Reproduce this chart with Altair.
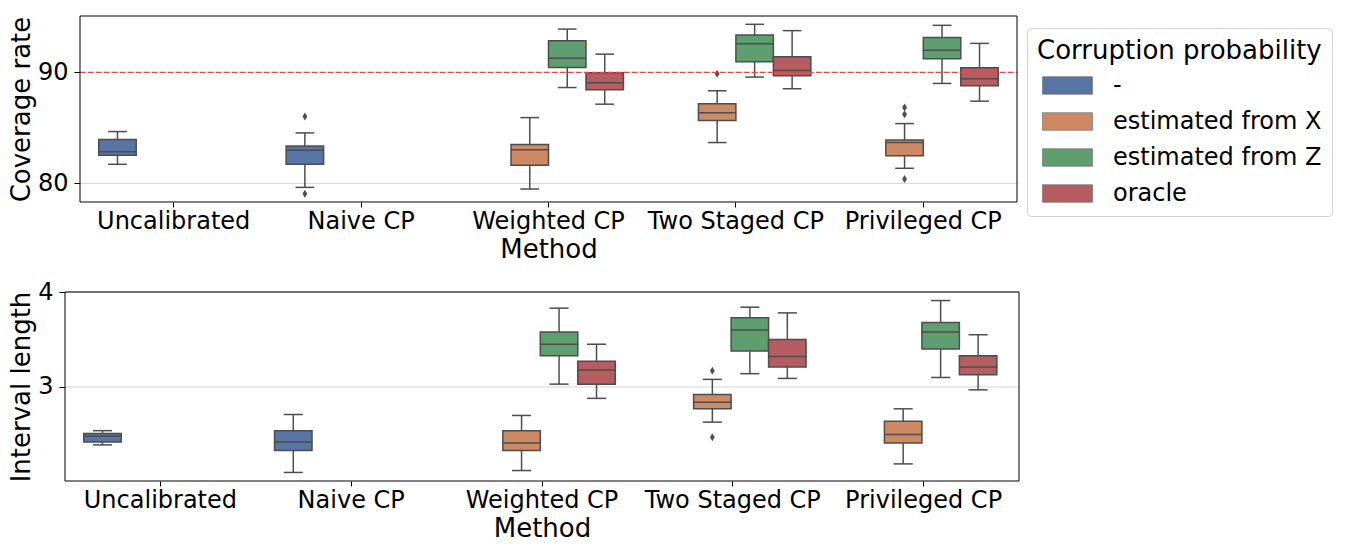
import altair as alt
import pandas as pd

# ---------------- data ----------------
methods = ["Uncalibrated", "Naive CP", "Weighted CP", "Two Staged CP", "Privileged CP"]
groups = ["-", "estimated from X", "estimated from Z", "oracle"]
group_colors = ["#5875a4", "#cc8963", "#5f9e6e", "#b55d60"]

X_, Z_, O_ = "estimated from X", "estimated from Z", "oracle"
box_method = ["Uncalibrated", "Naive CP",
              "Weighted CP", "Weighted CP", "Weighted CP",
              "Two Staged CP", "Two Staged CP", "Two Staged CP",
              "Privileged CP", "Privileged CP", "Privileged CP"]
box_group = ["-", "-", X_, Z_, O_, X_, Z_, O_, X_, Z_, O_]

# Coverage rate
cov_low = [81.72, 79.64, 79.49, 88.64, 87.14, 83.68, 89.58, 88.53, 81.36, 89.01, 87.41]
cov_q1 = [82.53, 81.72, 81.63, 90.45, 88.44, 85.66, 90.97, 89.70, 82.50, 91.24, 88.80]
cov_median = [82.86, 82.98, 83.02, 91.29, 89.07, 86.36, 92.59, 90.18, 83.68, 92.01, 89.43]
cov_q3 = [83.95, 83.38, 83.50, 92.86, 89.97, 87.17, 93.37, 91.42, 83.92, 93.16, 90.42]
cov_high = [84.67, 84.55, 85.93, 93.91, 91.65, 88.35, 94.34, 93.77, 85.39, 94.25, 92.62]
cov_out_method = ["Naive CP", "Naive CP", "Two Staged CP", "Privileged CP", "Privileged CP", "Privileged CP"]
cov_out_group = ["-", "-", X_, X_, X_, X_]
cov_out_value = [86.03, 79.07, 89.88, 86.84, 86.23, 80.40]
cov_domain = [78.32, 95.09]
cov_ticks = [80, 90]
cov_target = [90]

# Interval length
len_low = [2.39, 2.10, 2.12, 3.03, 2.88, 2.63, 3.14, 3.09, 2.19, 3.10, 2.97]
len_q1 = [2.42, 2.33, 2.33, 3.33, 3.03, 2.77, 3.38, 3.21, 2.41, 3.40, 3.13]
len_median = [2.48, 2.42, 2.41, 3.45, 3.18, 2.84, 3.60, 3.32, 2.50, 3.58, 3.21]
len_q3 = [2.51, 2.54, 2.54, 3.58, 3.27, 2.92, 3.73, 3.50, 2.64, 3.68, 3.33]
len_high = [2.54, 2.71, 2.70, 3.83, 3.45, 3.08, 3.84, 3.78, 2.77, 3.91, 3.55]
len_out_method = ["Two Staged CP", "Two Staged CP"]
len_out_group = [X_, X_]
len_out_value = [3.17, 2.47]
len_domain = [2.01, 4.0]
len_ticks = [3, 4]

# ---------------- styling ----------------
FONT = "DejaVu Sans"
GRAY = "#4d4d4d"
DIAMOND = "M0,-1L0.6,0L0,1L-0.6,0Z"
PATCH = "M-2.083,-0.733L2.083,-0.733L2.083,0.733L-2.083,0.733Z"


def panel(low, q1, med, q3, high, om, og, ov, ydomain, yticks, ytitle,
          width, height, x0, target=None):
    boxes = pd.DataFrame({"method": box_method, "group": box_group,
                          "low": low, "q1": q1, "median": med, "q3": q3, "high": high})
    outs = pd.DataFrame({"method": om, "group": og, "value": ov})
    grid = pd.DataFrame({"v": yticks})
    frame = pd.DataFrame({"a": [0]})

    box_w = (width - x0) / 25.0
    xscale = alt.Scale(domain=methods, range=[x0, width], paddingInner=0, paddingOuter=0)
    xaxis = alt.Axis(title="Method", labelAngle=0, domain=False, tickSize=5,
                     labelPadding=2.5, titlePadding=2.5, tickColor="black")
    xenc = alt.X("method:N", scale=xscale, sort=methods, axis=xaxis)
    xoff = alt.XOffset("group:N", sort=groups,
                       scale=alt.Scale(domain=groups, paddingInner=0, paddingOuter=0.5))
    yscale = alt.Scale(domain=ydomain, nice=False, zero=False)
    yaxis = alt.Axis(values=yticks, title=ytitle, domain=False, grid=False, tickSize=6,
                     labelPadding=6, titlePadding=3, offset=-x0, tickColor="black")

    def Y(field):
        return alt.Y(field, type="quantitative", scale=yscale, axis=yaxis, title=ytitle)

    gridlayer = alt.Chart(grid).mark_rule(color="#d4d4d4", strokeWidth=1).encode(
        y=Y("v"), x=alt.value(x0), x2=alt.value(width))

    whisk = alt.Chart(boxes).mark_rule(color=GRAY, strokeWidth=1.5).encode(
        x=xenc, xOffset=xoff, y=Y("low"), y2="high")

    box = alt.Chart(boxes).mark_bar(stroke=GRAY, strokeWidth=1.5, opacity=1).encode(
        x=xenc, xOffset=xoff, y=Y("q1"), y2="q3",
        color=alt.Color("group:N", sort=groups,
                        scale=alt.Scale(domain=groups, range=group_colors),
                        legend=alt.Legend(title="Corruption probability", orient="none",
                                          legendX=962, legendY=12)))

    median = alt.Chart(boxes).mark_tick(color=GRAY, thickness=1.5, size=box_w,
                                        opacity=1).encode(
        x=xenc, xOffset=xoff, y=Y("median"))
    cap_lo = alt.Chart(boxes).mark_tick(color=GRAY, thickness=1.5, size=box_w / 2,
                                        opacity=1).encode(
        x=xenc, xOffset=xoff, y=Y("low"))
    cap_hi = alt.Chart(boxes).mark_tick(color=GRAY, thickness=1.5, size=box_w / 2,
                                        opacity=1).encode(
        x=xenc, xOffset=xoff, y=Y("high"))
    outl = alt.Chart(outs).mark_point(shape=DIAMOND, filled=True, color=GRAY, size=64,
                                      opacity=1).encode(
        x=xenc, xOffset=xoff, y=Y("value"))

    layers = [gridlayer, whisk, box, median, cap_lo, cap_hi, outl]
    if target is not None:
        ref = pd.DataFrame({"v": target})
        layers.append(alt.Chart(ref).mark_rule(color="#dd4b4b", strokeWidth=1.3,
                                               strokeDash=[5.5, 2.5]).encode(
            y=Y("v"), x=alt.value(x0), x2=alt.value(width)))
    layers.append(alt.Chart(frame).mark_rect(fill="transparent", stroke="black",
                                             strokeWidth=1).encode(
        x=alt.value(x0), x2=alt.value(width), y=alt.value(0), y2=alt.value(height)))
    return alt.layer(*layers).properties(width=width, height=height)


top = panel(cov_low, cov_q1, cov_median, cov_q3, cov_high,
            cov_out_method, cov_out_group, cov_out_value,
            cov_domain, cov_ticks, "Coverage rate", 952, 186, 15, target=cov_target)
bottom = panel(len_low, len_q1, len_median, len_q3, len_high,
               len_out_method, len_out_group, len_out_value,
               len_domain, len_ticks, "Interval length", 954, 189, 0)

chart = alt.vconcat(top, bottom, spacing=18).properties(
    padding={"left": 0, "top": 7, "right": 5, "bottom": 5}
).configure_view(stroke=None).configure_axis(
    labelFont=FONT, labelFontSize=24, labelColor="black",
    titleFont=FONT, titleFontSize=26, titleColor="black", titleFontWeight="normal"
).configure_legend(
    titleFont=FONT, titleFontSize=26, titleFontWeight="normal", titleColor="black",
    labelFont=FONT, labelFontSize=24, labelColor="black",
    labelLimit=0, titleLimit=0,
    symbolType=PATCH, symbolSize=576, symbolStrokeColor="#666666", symbolStrokeWidth=0.6,
    symbolOffset=18, labelOffset=33, rowPadding=11, titlePadding=9, padding=10,
    strokeColor="#d0d0d0", cornerRadius=4, fillColor="white", symbolOpacity=1
)

chart.save("out.html", embed_options={"renderer": "svg", "actions": False})
